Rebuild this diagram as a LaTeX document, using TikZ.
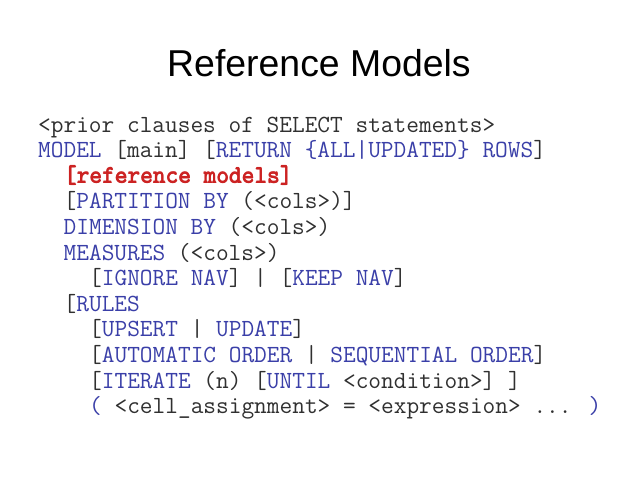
\documentclass[tikz,border=0pt]{standalone}
\usepackage{fontspec}
\setmainfont{Liberation Sans}
\definecolor{kwblue}{HTML}{3A3FA8}
\definecolor{txt}{HTML}{303030}
\definecolor{hired}{HTML}{CC2222}
\newcommand{\kw}[1]{\textcolor{kwblue}{#1}}
\tikzset{codeline/.style={anchor=base west,inner sep=0pt,font=\fontsize{24.65pt}{26pt}\ttfamily,text=txt}}
\begin{document}
\begin{tikzpicture}[x=1pt,y=1pt]
\useasboundingbox[fill=white] (0,0) rectangle (638,-479);
\node[anchor=base,inner sep=0pt,font=\fontsize{37.4pt}{40pt}\selectfont] (title) at (319,-76) {Reference Models};
\node[codeline] (l1) at (38,-132) {<prior clauses of SELECT statements>};
\node[codeline] (l2) at (38,-157.6) {\kw{MODEL} [main] [\kw{RETURN} \kw{\{ALL\textbar UPDATED\}} \kw{ROWS}]};
\node[codeline,text=hired] (l3) at (63.5,-183.2) {[reference models]};
\node[codeline,text=hired] (l3b) at (64.3,-183.2) {[reference models]};
\node[codeline,text=hired] (l3c) at (63.9,-182.8) {[reference models]};
\node[codeline] (l4) at (63.5,-208.8) {[\kw{PARTITION BY} (<cols>)]};
\node[codeline] (l5) at (63.5,-234.4) {\kw{DIMENSION BY} (<cols>)};
\node[codeline] (l6) at (63.5,-260) {\kw{MEASURES} (<cols>)};
\node[codeline] (l7) at (89,-285.6) {[\kw{IGNORE NAV}] \textbar{} [\kw{KEEP NAV}]};
\node[codeline] (l8) at (63.5,-311.2) {[\kw{RULES}};
\node[codeline] (l9) at (89,-336.8) {[\kw{UPSERT} \textbar{} \kw{UPDATE}]};
\node[codeline] (l10) at (89,-362.4) {[\kw{AUTOMATIC ORDER} \textbar{} \kw{SEQUENTIAL ORDER}]};
\node[codeline] (l11) at (89,-388) {[\kw{ITERATE} (n) [\kw{UNTIL} <condition>] ]};
\node[codeline] (l12) at (89,-413.6) {\kw{(} <cell\_assignment> = <expression> ... \kw{)}};
\end{tikzpicture}
\end{document}
